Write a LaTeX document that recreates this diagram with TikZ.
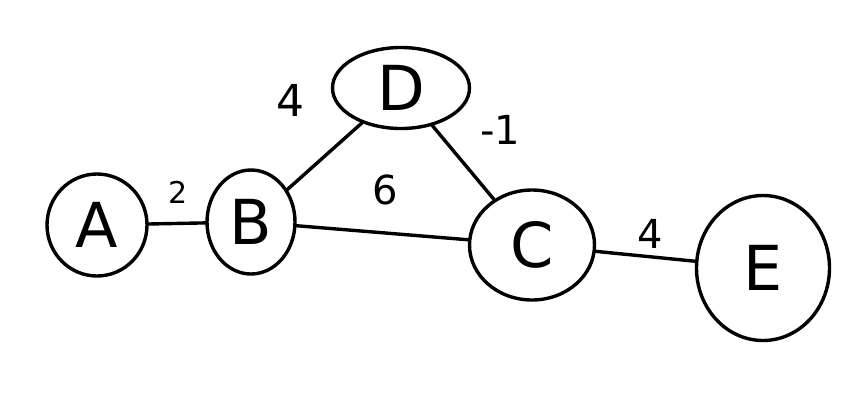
\documentclass[tikz,border=0pt]{standalone}
\usepackage{fontspec}
\setmainfont{DejaVu Sans}
\usetikzlibrary{shapes.geometric}
\begin{document}
\begin{tikzpicture}[x=1pt,y=-1pt,line width=3.4pt,line join=round,line cap=round,
  vert/.style={draw,ellipse,inner sep=0pt,font=\fontsize{62}{62}\selectfont},
  wlabel/.style={inner sep=0pt,font=\fontsize{34}{34}\selectfont}]
\useasboundingbox (0,0) rectangle (867,408);
\node[vert,minimum width=100pt,minimum height=102pt] (A) at (97,225) {A};
\node[vert,minimum width=88pt,minimum height=104pt] (B) at (251,222) {B};
\node[vert,minimum width=137pt,minimum height=81pt] (D) at (401,88) {D};
\node[vert,minimum width=125pt,minimum height=110pt] (C) at (532,245) {C};
\node[vert,minimum width=133pt,minimum height=145pt] (E) at (763,268) {E};
\draw (A) -- (B);
\draw (B) -- (D);
\draw (D) -- (C);
\draw (B) -- (C);
\draw (C) -- (E);
\node[wlabel,font=\fontsize{30}{30}\selectfont] (l2) at (178,192) {2};
\node[wlabel,font=\fontsize{44}{44}\selectfont] (l4a) at (290,100) {4};
\node[wlabel,font=\fontsize{40}{40}\selectfont] (l6) at (385,190) {6};
\node[wlabel,font=\fontsize{40}{40}\selectfont] (l1) at (500,130) {-1};
\node[wlabel,font=\fontsize{40}{40}\selectfont] (l4b) at (650,234) {4};
\end{tikzpicture}
\end{document}
